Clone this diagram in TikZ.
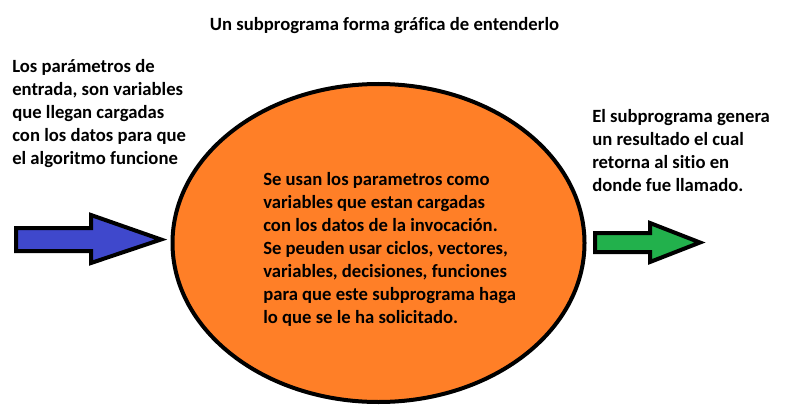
\documentclass[tikz,border=0pt]{standalone}
\usepackage{fontspec}
\setmainfont{Carlito}[Ligatures={NoCommon}]
\begin{document}
\begin{tikzpicture}[x=0.75pt,y=-0.75pt,
  txt/.style={font=\bfseries\fontsize{14pt}{17.25pt}\selectfont, inner sep=0pt, align=left, anchor=base west},
  shapeline/.style={draw=black, line width=3pt, line join=miter}]
\useasboundingbox (0,0) rectangle (788,417);
\fill[white] (0,0) rectangle (788,417);
\node[txt, anchor=base] (title) at (384.5,31) {Un subprograma forma gráfica de entenderlo};
\node[txt] (left) at (12,165) {Los parámetros de\\entrada, son variables\\que llegan cargadas\\con los datos para que\\el algoritmo funcione};
\node[txt] (right) at (592,191) {El subprograma genera\\un resultado el cual\\retorna al sitio en\\donde fue llamado.};
\draw[shapeline, fill={rgb,255:red,255;green,127;blue,39}] (378.5,243) ellipse [x radius=206, y radius=159];
\node[txt] (center) at (263,323) {Se usan los parametros como\\variables que estan cargadas\\con los datos de la invocación.\\Se peuden usar ciclos, vectores,\\variables, decisiones, funciones\\para que este subprograma haga\\lo que se le ha solicitado.};
\draw[shapeline, fill={rgb,255:red,63;green,72;blue,204}] (16,228) -- (91,228) -- (91,215) -- (161,239.5) -- (91,263) -- (91,251) -- (16,251) -- cycle;
\draw[shapeline, fill={rgb,255:red,34;green,177;blue,76}] (595,233) -- (650,233) -- (650,223) -- (700,242.5) -- (650,262) -- (650,252) -- (595,252) -- cycle;
\end{tikzpicture}
\end{document}
